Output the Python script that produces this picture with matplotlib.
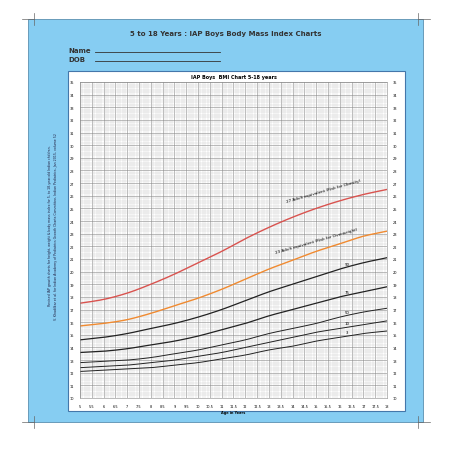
import matplotlib
matplotlib.use("Agg")
import matplotlib.pyplot as plt
import numpy as np
from matplotlib.patches import Rectangle
from matplotlib.lines import Line2D

ages = [5, 6, 7, 8, 9, 10, 11, 12, 13, 14, 15, 16, 17, 18]
adult27 = [17.5, 17.8, 18.3, 19.0, 19.8, 20.7, 21.6, 22.6, 23.5, 24.3, 25.0, 25.6, 26.1, 26.5]
adult23 = [15.7, 15.9, 16.2, 16.7, 17.3, 17.9, 18.6, 19.4, 20.2, 20.9, 21.6, 22.2, 22.8, 23.2]
p90 = [14.6, 14.8, 15.1, 15.5, 15.9, 16.4, 17.0, 17.7, 18.4, 19.0, 19.6, 20.2, 20.7, 21.1]
p75 = [13.6, 13.7, 13.9, 14.2, 14.5, 14.9, 15.4, 15.9, 16.5, 17.0, 17.5, 18.0, 18.4, 18.8]
p50 = [12.8, 12.9, 13.0, 13.2, 13.5, 13.8, 14.2, 14.6, 15.1, 15.5, 15.9, 16.4, 16.8, 17.1]
p10 = [12.4, 12.5, 12.6, 12.8, 13.0, 13.3, 13.6, 14.0, 14.4, 14.8, 15.2, 15.5, 15.8, 16.1]
p3 = [12.1, 12.2, 12.3, 12.4, 12.6, 12.8, 13.1, 13.4, 13.8, 14.1, 14.5, 14.8, 15.1, 15.3]
pct_labels = ["90", "75", "50", "10", "3"]
x_ticks = [5 + 0.5 * i for i in range(27)]
y_ticks = list(range(10, 36))


def smooth(xs, ys, n=12):
    """Catmull-Rom spline through the given points (rendering only)."""
    x = np.asarray(xs, float); y = np.asarray(ys, float)
    px = np.concatenate([[2*x[0]-x[1]], x, [2*x[-1]-x[-2]]])
    py = np.concatenate([[2*y[0]-y[1]], y, [2*y[-1]-y[-2]]])
    ox, oy = [], []
    t = np.linspace(0, 1, n, endpoint=False)
    for i in range(1, len(px)-2):
        for arr, out in ((px, ox), (py, oy)):
            p0, p1, p2, p3_ = arr[i-1], arr[i], arr[i+1], arr[i+2]
            out.extend(0.5*((2*p1) + (-p0+p2)*t + (2*p0-5*p1+4*p2-p3_)*t**2 + (-p0+3*p1-3*p2+p3_)*t**3))
    ox.append(x[-1]); oy.append(y[-1])
    return ox, oy


fig = plt.figure(figsize=(4.52, 4.52), dpi=100)
fig.patch.set_facecolor("white")
blue = "#86CDF2"
fig.add_artist(Rectangle((28/452, 1-423/452), 395/452, 403/452, transform=fig.transFigure,
                         facecolor=blue, edgecolor="#5a8fb0", lw=0.6, zorder=-3))
fig.add_artist(Rectangle((68/452, 1-412/452), 337/452, 340/452, transform=fig.transFigure,
                         facecolor="white", edgecolor="#4477aa", lw=0.8, zorder=-2))
for (x0, y0, x1, y1) in [(22, 20, 34, 20), (34, 14, 34, 26), (418, 20, 430, 20), (418, 14, 418, 26),
                         (22, 423, 34, 423), (34, 417, 34, 429), (418, 423, 430, 423), (418, 417, 418, 429)]:
    fig.add_artist(Line2D([x0/452, x1/452], [1-y0/452, 1-y1/452], transform=fig.transFigure, color="#666", lw=0.5))

fig.text(0.5, 1-34/452, "5 to 18 Years : IAP Boys Body Mass Index Charts", ha="center", va="center",
         fontsize=5, fontweight="bold", color="#333")
fig.text(68/452, 1-51/452, "Name", fontsize=5, fontweight="bold", va="center", color="#333")
fig.text(68/452, 1-60/452, "DOB", fontsize=5, fontweight="bold", va="center", color="#333")
for yy in [53, 62]:
    fig.add_artist(Line2D([95/452, 220/452], [1-yy/452]*2, transform=fig.transFigure, color="#333", lw=0.6))
fig.text(50/452, 0.5, "Revised IAP growth charts for height, weight & body mass index for 5- to 18-year-old Indian children.",
         rotation=90, fontsize=2.3, ha="center", va="center", color="#224")
fig.text(56/452, 0.5, "V. Khadilkar et al. for Indian Academy of Pediatrics Growth Charts Committee, Indian Pediatrics, Jan 2015, volume 52",
         rotation=90, fontsize=2.3, ha="center", va="center", color="#224")

ax = fig.add_axes([80/452, 1-399/452, 307/452, 316/452])
ax.set_facecolor("white")
ax.set_xlim(5, 18)
ax.set_ylim(10, 35)
ax.set_xticks(x_ticks)
ax.set_xticklabels([("%g" % v) for v in x_ticks], fontsize=2.5)
ax.set_yticks(y_ticks)
ax.set_yticklabels([str(v) for v in y_ticks], fontsize=2.5)
ax.tick_params(length=0, pad=4, labelright=True)
ax.set_xticks([5 + 0.1 * i for i in range(131)], minor=True)
ax.set_yticks([10 + 0.2 * i for i in range(126)], minor=True)
ax.tick_params(which="minor", length=0)
ax.grid(which="minor", color="#c4c4c4", lw=0.25)
ax.grid(which="major", color="#8a8a8a", lw=0.4)
for s in ax.spines.values():
    s.set_linewidth(0.4)
    s.set_color("#888")
ax.set_title("IAP Boys  BMI Chart 5-18 years", fontsize=3.5, fontweight="bold", pad=3)
ax.set_xlabel("Age in Years", fontsize=2.5, fontweight="bold", labelpad=2)

ax.plot(*smooth(ages, adult27), color="#d9534f", lw=1.0)
ax.plot(*smooth(ages, adult23), color="#f08a30", lw=1.0)
for vals, lab in zip([p90, p75, p50, p10, p3], pct_labels):
    ax.plot(*smooth(ages, vals), color="#222", lw=0.9 if lab in ("90", "75") else 0.7)
    ax.text(16.3, vals[11] + 0.25, lab, fontsize=2.8, ha="center", va="bottom")
ax.text(15.3, adult27[10] + 0.45, "27 Adult equivalent (Risk for Obesity)", fontsize=3, rotation=16,
        ha="center", va="bottom")
ax.text(15.0, adult23[10] - 0.2, "23 Adult equivalent (Risk for Overweight)", fontsize=3, rotation=16,
        ha="center", va="bottom")

fig.savefig("out.png", dpi=100, facecolor="white")
